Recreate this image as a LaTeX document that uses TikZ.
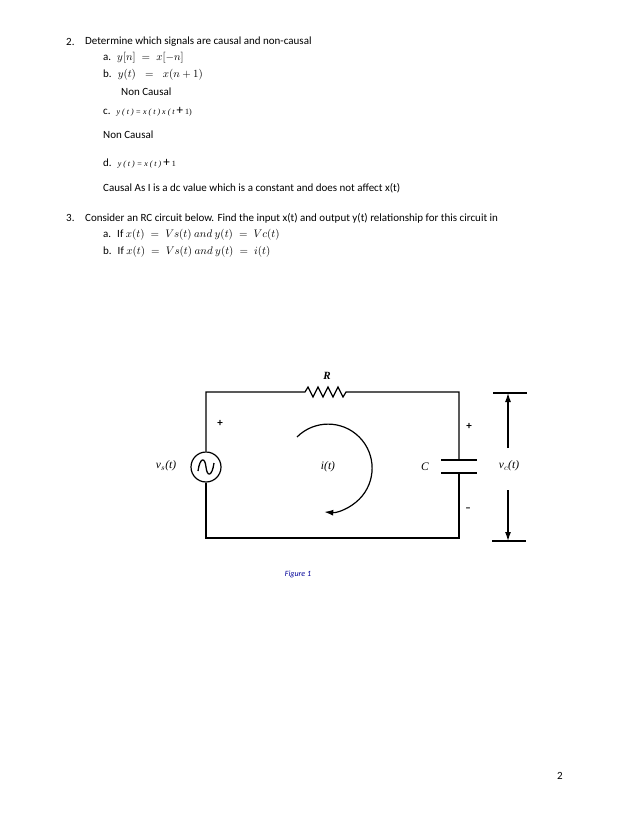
\documentclass[tikz,border=0pt]{standalone}
\usepackage{fontspec}
\setmainfont{Carlito}
\newfontfamily\serifx{Liberation Serif}
\usetikzlibrary{arrows.meta}
\begin{document}
\begin{tikzpicture}[x=1pt,y=-1pt,
  txt/.style={anchor=west,inner sep=0pt,font=\fontsize{11}{13}\selectfont},
  lbl/.style={inner sep=0pt,font=\serifx\itshape\fontsize{11.5}{13}\selectfont},
  wire/.style={line width=1.2pt}]
\useasboundingbox[fill=white] (0,0) rectangle (638,826);
\node[txt] (q2n) at (66,42) {2.};
\node[txt] (q2) at (85,42) {Determine which signals are causal and non-causal};
\node[txt] (a1) at (103,58) {a.\hspace{6pt}$y[n]\;=\;x[-n]$};
\node[txt] (b1) at (103,75) {b.\hspace{6pt}$y(t)\;\;=\;\;x(n+1)$};
\node[txt] (nc1) at (121,92) {Non Causal};
\node[txt] (c1) at (103,112) {c.\hspace{6pt}{\serifx\itshape\fontsize{8}{10}\selectfont y ( t ) = x ( t ) x ( t }{\fontsize{13}{13}\selectfont+}{\serifx\fontsize{8}{10}\selectfont\ 1)}};
\node[txt] (nc2) at (103,135) {Non Causal};
\node[txt] (d1) at (103,164) {d.\hspace{6pt}{\serifx\itshape\fontsize{8}{10}\selectfont y ( t ) = x ( t ) }{\fontsize{13}{13}\selectfont+}{\serifx\fontsize{8}{10}\selectfont\ 1}};
\node[txt] (cs) at (103,188) {Causal As I is a dc value which is a constant and does not affect x(t)};
\node[txt] (q3n) at (66,218) {3.};
\node[txt] (q3) at (85,218) {Consider an RC circuit below. Find the input x(t) and output y(t) relationship for this circuit in};
\node[txt] (a3) at (103,235) {a.\hspace{6pt}If $x(t)\;=\;Vs(t)\ and\ y(t)\;=\;Vc(t)$};
\node[txt] (b3) at (103,252) {b.\hspace{6pt}If $x(t)\;=\;Vs(t)\ and\ y(t)\;=\;i(t)$};

% circuit
\coordinate (tl) at (206,392); \coordinate (tr) at (459,392);
\coordinate (bl) at (206,538); \coordinate (br) at (459,538);
\node[circle,draw,line width=1.2pt,minimum size=30pt,inner sep=0pt] (src) at (206,467) {};
\draw[line width=1.3pt] (198,471) .. controls (200,457) and (205,457) .. (206,467) .. controls (207,477) and (212,477) .. (214,463);
\draw[wire] (src.north) -- (tl) -- (305,392) -- (308,387) -- (313,397) -- (318,387) -- (323,397) -- (328,387) -- (333,397) -- (338,387) -- (343,397) -- (346,392) -- (tr) -- (459,460);
\draw[wire] (441,460) -- (477,460);
\draw[wire] (441,473) -- (477,473);
\draw[wire] (459,473) -- (br) -- (bl) -- (src.south);
\node[lbl,font=\serifx\itshape\bfseries\fontsize{11}{13}\selectfont] (R) at (327,376) {R};
\node[lbl] (C) at (425,467) {C};
\node[lbl] (vs) at (166,466) {v$_s$(t)};
\node[lbl] (it) at (328,467) {i(t)};
\node[lbl] (vc) at (509,466) {v$_c$(t)};
\node[font=\bfseries\fontsize{11}{11}\selectfont,inner sep=0pt] (p1) at (220,423) {+};
\node[font=\bfseries\fontsize{11}{11}\selectfont,inner sep=0pt] (p2) at (469,426) {+};
\node[font=\bfseries\fontsize{11}{11}\selectfont,inner sep=0pt] (m2) at (468,510) {--};
\draw[line width=1.2pt,-{Latex[length=9pt,width=6pt]}] (297,437) arc[start angle=-135,end angle=95,radius=44];
% voltage marker
\coordinate (vt) at (508,393); \coordinate (vb) at (508,541);
\draw[wire] (493,393) -- (527,393);
\draw[wire] (492,541) -- (526,541);
\draw[wire,-{Latex[length=9pt,width=6pt]}] (508,448) -- (vt);
\draw[wire,-{Latex[length=9pt,width=6pt]}] (508,490) -- (vb);
\node[font=\itshape\fontsize{8}{10}\selectfont,text=blue!60!black,inner sep=0pt] (fig) at (298,574) {Figure 1};
\node[font=\fontsize{11}{13}\selectfont,inner sep=0pt] (pg) at (560,776) {2};
\end{tikzpicture}
\end{document}
